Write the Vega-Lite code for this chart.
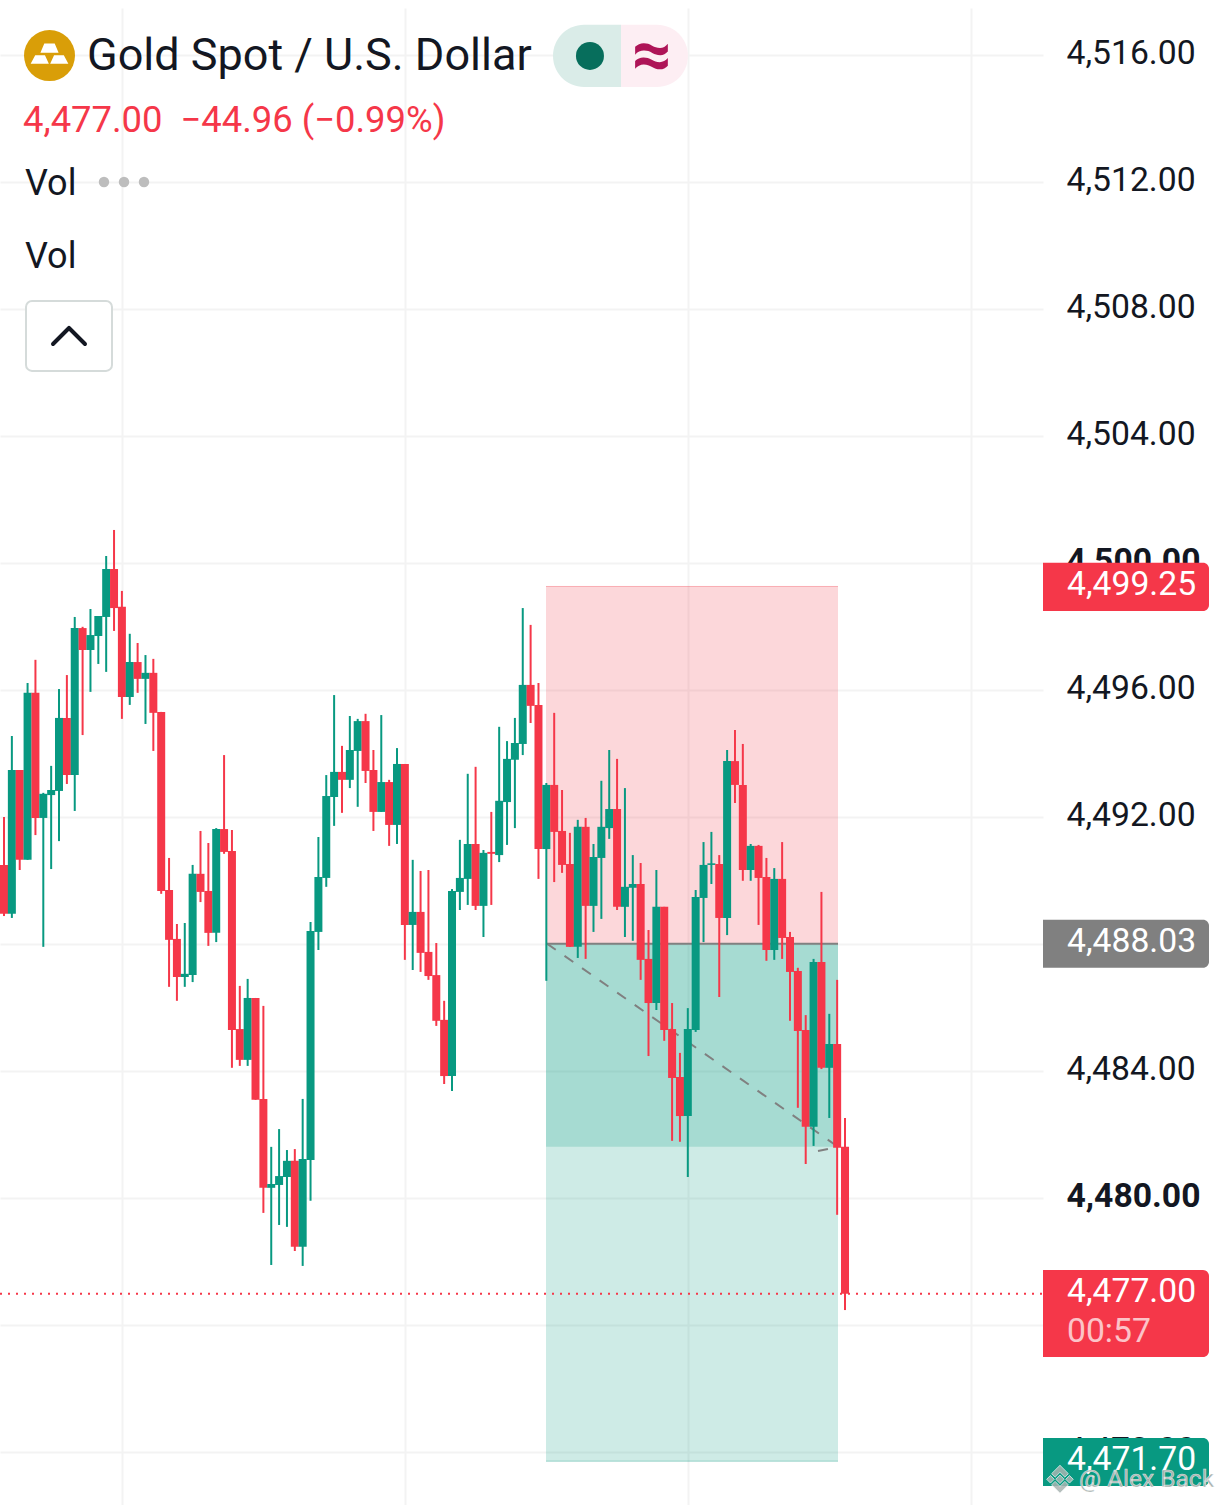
{
  "$schema": "https://vega.github.io/schema/vega-lite/v6.json",
  "autosize": {"type": "none"},
  "padding": {"left": 0, "top": 8, "right": 177, "bottom": 0},
  "width": 1043,
  "height": 1497,
  "background": "white",
  "view": {"stroke": null},
  "config": {"font": "Roboto", "text": {"font": "Roboto"}},
  "datasets": {
    "candles": [
      {"i":0,"o":4490.48,"h":4491.99,"l":4488.87,"c":4488.94},
      {"i":1,"o":4488.94,"h":4494.54,"l":4488.81,"c":4493.47},
      {"i":2,"o":4493.47,"h":4493.47,"l":4490.32,"c":4490.64},
      {"i":3,"o":4490.64,"h":4496.21,"l":4490.64,"c":4495.90},
      {"i":4,"o":4495.90,"h":4496.94,"l":4491.42,"c":4491.96},
      {"i":5,"o":4491.96,"h":4492.75,"l":4487.90,"c":4492.72},
      {"i":6,"o":4492.68,"h":4493.60,"l":4490.35,"c":4492.84},
      {"i":7,"o":4492.81,"h":4496.02,"l":4491.23,"c":4495.11},
      {"i":8,"o":4495.11,"h":4496.46,"l":4493.03,"c":4493.31},
      {"i":9,"o":4493.31,"h":4498.29,"l":4492.18,"c":4497.94},
      {"i":10,"o":4497.94,"h":4497.98,"l":4494.57,"c":4497.25},
      {"i":11,"o":4497.25,"h":4498.54,"l":4495.93,"c":4497.72},
      {"i":12,"o":4497.69,"h":4498.32,"l":4496.81,"c":4498.32},
      {"i":13,"o":4498.29,"h":4500.21,"l":4496.56,"c":4499.80},
      {"i":14,"o":4499.80,"h":4501.03,"l":4497.85,"c":4498.57},
      {"i":15,"o":4498.61,"h":4499.11,"l":4495.08,"c":4495.77},
      {"i":16,"o":4495.77,"h":4497.76,"l":4495.52,"c":4496.87},
      {"i":17,"o":4496.87,"h":4497.47,"l":4495.90,"c":4496.34},
      {"i":18,"o":4496.34,"h":4497.09,"l":4494.92,"c":4496.53},
      {"i":19,"o":4496.53,"h":4496.97,"l":4494.07,"c":4495.27},
      {"i":20,"o":4495.30,"h":4495.30,"l":4489.57,"c":4489.66},
      {"i":21,"o":4489.69,"h":4490.70,"l":4486.64,"c":4488.12},
      {"i":22,"o":4488.15,"h":4488.62,"l":4486.20,"c":4486.95},
      {"i":23,"o":4486.95,"h":4488.65,"l":4486.64,"c":4487.05},
      {"i":24,"o":4487.01,"h":4490.48,"l":4486.79,"c":4490.20},
      {"i":25,"o":4490.20,"h":4491.55,"l":4489.31,"c":4489.63},
      {"i":26,"o":4489.66,"h":4491.17,"l":4487.93,"c":4488.34},
      {"i":27,"o":4488.34,"h":4491.64,"l":4488.05,"c":4491.61},
      {"i":28,"o":4491.61,"h":4493.94,"l":4490.83,"c":4490.89},
      {"i":29,"o":4490.92,"h":4491.58,"l":4484.09,"c":4485.28},
      {"i":30,"o":4485.31,"h":4486.67,"l":4484.15,"c":4484.34},
      {"i":31,"o":4484.34,"h":4486.89,"l":4484.15,"c":4486.29},
      {"i":32,"o":4486.29,"h":4486.29,"l":4483.08,"c":4483.08},
      {"i":33,"o":4483.11,"h":4486.04,"l":4479.52,"c":4480.31},
      {"i":34,"o":4480.31,"h":4481.60,"l":4477.88,"c":4480.43},
      {"i":35,"o":4480.40,"h":4482.16,"l":4479.14,"c":4480.68},
      {"i":36,"o":4480.65,"h":4481.50,"l":4479.08,"c":4481.16},
      {"i":37,"o":4481.16,"h":4481.53,"l":4478.32,"c":4478.45},
      {"i":38,"o":4478.45,"h":4483.11,"l":4477.85,"c":4481.22},
      {"i":39,"o":4481.19,"h":4488.68,"l":4479.90,"c":4488.40},
      {"i":40,"o":4488.37,"h":4491.36,"l":4487.80,"c":4490.10},
      {"i":41,"o":4490.07,"h":4493.31,"l":4489.79,"c":4492.65},
      {"i":42,"o":4492.62,"h":4495.83,"l":4491.71,"c":4493.41},
      {"i":43,"o":4493.41,"h":4494.23,"l":4492.12,"c":4493.16},
      {"i":44,"o":4493.16,"h":4495.17,"l":4492.90,"c":4494.10},
      {"i":45,"o":4494.07,"h":4495.08,"l":4492.31,"c":4495.01},
      {"i":46,"o":4495.01,"h":4495.24,"l":4493.06,"c":4493.44},
      {"i":47,"o":4493.47,"h":4494.10,"l":4491.55,"c":4492.15},
      {"i":48,"o":4492.15,"h":4495.20,"l":4492.15,"c":4493.09},
      {"i":49,"o":4493.09,"h":4493.16,"l":4491.08,"c":4491.74},
      {"i":50,"o":4491.74,"h":4494.16,"l":4491.14,"c":4493.66},
      {"i":51,"o":4493.66,"h":4493.66,"l":4487.49,"c":4488.59},
      {"i":52,"o":4488.59,"h":4490.64,"l":4487.17,"c":4489.00},
      {"i":53,"o":4489.00,"h":4490.29,"l":4487.11,"c":4487.71},
      {"i":54,"o":4487.74,"h":4490.32,"l":4486.86,"c":4486.98},
      {"i":55,"o":4487.01,"h":4488.02,"l":4485.41,"c":4485.57},
      {"i":56,"o":4485.60,"h":4486.20,"l":4483.58,"c":4483.83},
      {"i":57,"o":4483.83,"h":4489.72,"l":4483.36,"c":4489.66},
      {"i":58,"o":4489.63,"h":4491.27,"l":4489.06,"c":4490.07},
      {"i":59,"o":4490.04,"h":4493.35,"l":4489.22,"c":4491.14},
      {"i":60,"o":4491.14,"h":4493.57,"l":4489.06,"c":4489.19},
      {"i":61,"o":4489.19,"h":4490.95,"l":4488.21,"c":4490.86},
      {"i":62,"o":4490.89,"h":4492.15,"l":4489.22,"c":4490.83},
      {"i":63,"o":4490.79,"h":4494.83,"l":4490.57,"c":4492.50},
      {"i":64,"o":4492.46,"h":4494.38,"l":4491.11,"c":4493.82},
      {"i":65,"o":4493.79,"h":4495.11,"l":4491.64,"c":4494.32},
      {"i":66,"o":4494.29,"h":4498.57,"l":4493.94,"c":4496.15},
      {"i":67,"o":4496.15,"h":4498.04,"l":4494.95,"c":4495.49},
      {"i":68,"o":4495.52,"h":4496.21,"l":4490.04,"c":4490.98},
      {"i":69,"o":4490.98,"h":4493.06,"l":4486.83,"c":4493.00},
      {"i":70,"o":4493.00,"h":4495.27,"l":4489.94,"c":4491.52},
      {"i":71,"o":4491.55,"h":4492.84,"l":4490.23,"c":4490.48},
      {"i":72,"o":4490.51,"h":4491.49,"l":4487.90,"c":4487.90},
      {"i":73,"o":4487.90,"h":4491.90,"l":4487.55,"c":4491.68},
      {"i":74,"o":4491.68,"h":4491.96,"l":4487.52,"c":4489.19},
      {"i":75,"o":4489.19,"h":4491.14,"l":4488.37,"c":4490.73},
      {"i":76,"o":4490.70,"h":4493.13,"l":4488.78,"c":4491.68},
      {"i":77,"o":4491.64,"h":4494.10,"l":4491.30,"c":4492.24},
      {"i":78,"o":4492.24,"h":4493.82,"l":4489.06,"c":4489.16},
      {"i":79,"o":4489.16,"h":4492.90,"l":4488.21,"c":4489.79},
      {"i":80,"o":4489.76,"h":4490.79,"l":4488.09,"c":4489.88},
      {"i":81,"o":4489.88,"h":4490.54,"l":4486.86,"c":4487.49},
      {"i":82,"o":4487.52,"h":4488.43,"l":4484.46,"c":4486.13},
      {"i":83,"o":4486.13,"h":4490.32,"l":4485.91,"c":4489.16},
      {"i":84,"o":4489.16,"h":4489.16,"l":4484.94,"c":4485.28},
      {"i":85,"o":4485.31,"h":4486.13,"l":4481.79,"c":4483.77},
      {"i":86,"o":4483.80,"h":4484.56,"l":4481.76,"c":4482.57},
      {"i":87,"o":4482.57,"h":4485.97,"l":4480.65,"c":4485.31},
      {"i":88,"o":4485.28,"h":4489.69,"l":4485.22,"c":4489.47},
      {"i":89,"o":4489.44,"h":4491.20,"l":4488.05,"c":4490.48},
      {"i":90,"o":4490.48,"h":4491.52,"l":4489.88,"c":4490.53},
      {"i":91,"o":4490.51,"h":4490.79,"l":4486.32,"c":4488.81},
      {"i":92,"o":4488.81,"h":4494.10,"l":4488.27,"c":4493.75},
      {"i":93,"o":4493.75,"h":4494.73,"l":4492.43,"c":4493.00},
      {"i":94,"o":4493.00,"h":4494.29,"l":4489.98,"c":4490.32},
      {"i":95,"o":4490.32,"h":4491.14,"l":4489.98,"c":4491.08},
      {"i":96,"o":4491.08,"h":4491.11,"l":4488.59,"c":4490.07},
      {"i":97,"o":4490.10,"h":4490.70,"l":4487.46,"c":4487.80},
      {"i":98,"o":4487.80,"h":4490.38,"l":4487.49,"c":4490.04},
      {"i":99,"o":4490.04,"h":4491.20,"l":4487.52,"c":4488.18},
      {"i":100,"o":4488.21,"h":4488.37,"l":4485.57,"c":4487.11},
      {"i":101,"o":4487.14,"h":4487.24,"l":4482.83,"c":4485.25},
      {"i":102,"o":4485.28,"h":4485.75,"l":4481.06,"c":4482.23},
      {"i":103,"o":4482.23,"h":4487.52,"l":4481.63,"c":4487.42},
      {"i":104,"o":4487.42,"h":4489.63,"l":4484.05,"c":4484.09},
      {"i":105,"o":4484.09,"h":4485.79,"l":4482.51,"c":4484.84},
      {"i":106,"o":4484.84,"h":4486.86,"l":4479.46,"c":4481.57},
      {"i":107,"o":4481.60,"h":4482.51,"l":4476.46,"c":4476.97}
    ]
  },
  "layer": [
    {
      "data": {"values": [{"a": 68.96, "b": 106.11, "top": 4499.25, "bottom": 4488.00}]},
      "mark": {"type": "rect", "color": "#f23645", "opacity": 0.2},
      "encoding": {
        "x": {"field": "a", "type": "quantitative", "title": null, "scale": {"domain": [-0.509, 132.19], "nice": false, "zero": false, "padding": 0},
          "axis": {"values": [15, 51, 87, 123], "title": null, "labels": false, "ticks": false, "domain": false, "grid": true, "gridColor": "#f3f3f3", "gridWidth": 2}},
        "x2": {"field": "b"},
        "y": {"field": "top", "type": "quantitative", "title": null, "scale": {"domain": [4470.32, 4517.47], "nice": false, "zero": false},
          "axis": {"orient": "right", "values": [4472, 4476, 4480, 4484, 4488, 4492, 4496, 4500, 4504, 4508, 4512, 4516], "format": ",.2f", "title": null, "ticks": false, "domain": false, "grid": true, "gridColor": "#f3f3f3", "gridWidth": 2, "labelFont": "Roboto", "labelFontSize": 33.7, "labelColor": "#131722", "labelAlign": "left", "labelPadding": 23, "labelOffset": -1, "labelOverlap": false, "labelFlush": false, "labelBound": false, "labelFontWeight": {"condition": {"test": "datum.value == 4480 || datum.value == 4500", "value": "bold"}, "value": "normal"}}},
        "y2": {"field": "bottom"}
      }
    },
    {
      "data": {"values": [{"a": 68.96, "b": 106.11, "top": 4488.00, "bottom": 4471.70}, {"a": 68.96, "b": 106.11, "top": 4488.00, "bottom": 4481.60}]},
      "mark": {"type": "rect", "color": "#089981", "opacity": 0.2},
      "encoding": {
        "x": {"field": "a", "type": "quantitative", "title": null},
        "x2": {"field": "b"},
        "y": {"field": "top", "type": "quantitative", "title": null},
        "y2": {"field": "bottom"}
      }
    },
    {
      "data": {"values": [{"a": 68.96, "b": 106.11, "p": 4499.25}]},
      "mark": {"type": "rule", "color": "#f23645", "opacity": 0.35, "strokeWidth": 1},
      "encoding": {"x": {"field": "a", "type": "quantitative", "title": null}, "x2": {"field": "b"}, "y": {"field": "p", "type": "quantitative", "title": null}}
    },
    {
      "data": {"values": [{"a": 68.96, "b": 106.11, "p": 4471.70}]},
      "mark": {"type": "rule", "color": "#089981", "opacity": 0.35, "strokeWidth": 1},
      "encoding": {"x": {"field": "a", "type": "quantitative", "title": null}, "x2": {"field": "b"}, "y": {"field": "p", "type": "quantitative", "title": null}}
    },
    {
      "data": {"values": [{"a": 68.96, "b": 106.11, "p": 4488.00}]},
      "mark": {"type": "rule", "color": "#808080", "strokeWidth": 2},
      "encoding": {"x": {"field": "a", "type": "quantitative", "title": null}, "x2": {"field": "b"}, "y": {"field": "p", "type": "quantitative", "title": null}}
    },
    {
      "data": {"values": [{"i": 69.08, "p": 4488.00}, {"i": 106.11, "p": 4481.60}]},
      "mark": {"type": "line", "color": "#808080", "strokeWidth": 2, "strokeDash": [10.7, 10.7]},
      "encoding": {"x": {"field": "i", "type": "quantitative", "title": null}, "y": {"field": "p", "type": "quantitative", "title": null}}
    },
    {
      "data": {"values": [{"a": 103.56, "b": 104.83, "p1": 4481.47, "p2": 4481.53}]},
      "mark": {"type": "rule", "color": "#808080", "strokeWidth": 2},
      "encoding": {"x": {"field": "a", "type": "quantitative", "title": null}, "x2": {"field": "b"}, "y": {"field": "p1", "type": "quantitative", "title": null}, "y2": {"field": "p2"}}
    },
    {
      "data": {"name": "candles"},
      "mark": {"type": "rule", "strokeWidth": 2},
      "encoding": {
        "x": {"field": "i", "type": "quantitative", "title": null},
        "y": {"field": "l", "type": "quantitative", "title": null},
        "y2": {"field": "h"},
        "color": {"condition": {"test": "datum.c >= datum.o", "value": "#089981"}, "value": "#f53749"}
      }
    },
    {
      "data": {"name": "candles"},
      "mark": {"type": "bar", "size": 8},
      "encoding": {
        "x": {"field": "i", "type": "quantitative", "title": null},
        "y": {"field": "o", "type": "quantitative", "title": null},
        "y2": {"field": "c"},
        "color": {"condition": {"test": "datum.c >= datum.o", "value": "#089981"}, "value": "#f53749"}
      }
    },
    {
      "data": {"values": [{"a": -0.509, "b": 132.19, "p": 4476.97}]},
      "mark": {"type": "rule", "color": "#f53749", "strokeWidth": 2, "strokeDash": [2, 6]},
      "encoding": {"x": {"field": "a", "type": "quantitative", "title": null}, "x2": {"field": "b"}, "y": {"field": "p", "type": "quantitative", "title": null}}
    },
    {
      "data": {"values": [{"a": 132.19, "b": 153.31, "top": 4500.0, "bottom": 4498.48}, {"a": 132.19, "b": 153.31, "top": 4477.72, "bottom": 4474.98}]},
      "mark": {"type": "rect", "color": "#f53749", "cornerRadiusTopRight": 6, "cornerRadiusBottomRight": 6},
      "encoding": {"x": {"field": "a", "type": "quantitative", "title": null}, "x2": {"field": "b"}, "y": {"field": "top", "type": "quantitative", "title": null}, "y2": {"field": "bottom"}}
    },
    {
      "data": {"values": [{"a": 132.19, "b": 153.31, "top": 4488.75, "bottom": 4487.24}]},
      "mark": {"type": "rect", "color": "#808080", "cornerRadiusTopRight": 6, "cornerRadiusBottomRight": 6},
      "encoding": {"x": {"field": "a", "type": "quantitative", "title": null}, "x2": {"field": "b"}, "y": {"field": "top", "type": "quantitative", "title": null}, "y2": {"field": "bottom"}}
    },
    {
      "data": {"values": [{"a": 132.19, "b": 153.31, "top": 4472.43, "bottom": 4470.92}]},
      "mark": {"type": "rect", "color": "#089981", "cornerRadiusTopRight": 6, "cornerRadiusBottomRight": 6},
      "encoding": {"x": {"field": "a", "type": "quantitative", "title": null}, "x2": {"field": "b"}, "y": {"field": "top", "type": "quantitative", "title": null}, "y2": {"field": "bottom"}}
    },
    {
      "data": {"values": [{"i": 135.24, "p": 4499.25, "t": "4,499.25"}, {"i": 135.24, "p": 4488.03, "t": "4,488.03"}, {"i": 135.24, "p": 4477.00, "t": "4,477.00"}, {"i": 135.24, "p": 4471.70, "t": "4,471.70"}]},
      "mark": {"type": "text", "font": "Roboto", "fontSize": 33.7, "color": "white", "align": "left", "baseline": "middle", "dy": -1},
      "encoding": {"x": {"field": "i", "type": "quantitative", "title": null}, "y": {"field": "p", "type": "quantitative", "title": null}, "text": {"field": "t"}}
    },
    {
      "data": {"values": [{"i": 135.24, "p": 4475.77, "t": "00:57"}]},
      "mark": {"type": "text", "font": "Roboto", "fontSize": 33.7, "color": "white", "opacity": 0.7, "align": "left", "baseline": "middle"},
      "encoding": {"x": {"field": "i", "type": "quantitative", "title": null}, "y": {"field": "p", "type": "quantitative", "title": null}, "text": {"field": "t"}}
    },
    {
      "data": {"values": [{"i": 136.77, "p": 4471.11, "t": "@ Alex Back"}]},
      "mark": {"type": "text", "font": "Roboto", "fontSize": 24.5, "align": "left", "baseline": "middle", "color": "#a3aeab", "stroke": "white", "strokeWidth": 0.6, "strokeOpacity": 0.7},
      "encoding": {"x": {"field": "i", "type": "quantitative", "title": null}, "y": {"field": "p", "type": "quantitative", "title": null}, "text": {"field": "t"}}
    },
    {
      "data": {"values": [{"i": 134.35, "p": 4471.13}]},
      "mark": {"type": "point", "filled": true, "size": 784, "color": "#a9b5b2", "opacity": 0.85, "stroke": "white", "strokeWidth": 0.8, "shape": "M0 -0.3 L0.3 0 L0 0.3 L-0.3 0 Z M-0.95 0 L-0.68 -0.27 L-0.41 0 L-0.68 0.27 Z M0.95 0 L0.68 -0.27 L0.41 0 L0.68 0.27 Z M0 -1 L0.6 -0.4 L0.35 -0.15 L0 -0.5 L-0.35 -0.15 L-0.6 -0.4 Z M0 1 L0.6 0.4 L0.35 0.15 L0 0.5 L-0.35 0.15 L-0.6 0.4 Z"},
      "encoding": {"x": {"field": "i", "type": "quantitative", "title": null}, "y": {"field": "p", "type": "quantitative", "title": null}}
    },
    {
      "data": {"values": [{"i": 5.79, "p": 4515.97}]},
      "mark": {"type": "point", "filled": true, "size": 2601, "color": "#d99e08", "opacity": 1, "shape": "circle"},
      "encoding": {"x": {"field": "i", "type": "quantitative", "title": null}, "y": {"field": "p", "type": "quantitative", "title": null}}
    },
    {
      "data": {"values": [{"i": 5.79, "p": 4516.0}]},
      "mark": {"type": "point", "filled": true, "size": 676, "color": "white", "opacity": 1, "shape": "M-0.4 -0.85 L0.4 -0.85 L0.7 -0.15 L-0.7 -0.15 Z M-1.1 0.05 L-0.35 0.05 L-0.05 0.7 L-1.45 0.7 Z M1.1 0.05 L0.35 0.05 L0.05 0.7 L1.45 0.7 Z"},
      "encoding": {"x": {"field": "i", "type": "quantitative", "title": null}, "y": {"field": "p", "type": "quantitative", "title": null}}
    },
    {
      "data": {"values": [{"i": 10.56, "p": 4515.52, "t": "Gold Spot / U.S. Dollar"}]},
      "mark": {"type": "text", "font": "Roboto", "fontSize": 45, "color": "#131722", "align": "left", "baseline": "alphabetic"},
      "encoding": {"x": {"field": "i", "type": "quantitative", "title": null}, "y": {"field": "p", "type": "quantitative", "title": null}, "text": {"field": "t"}}
    },
    {
      "data": {"values": [{"a": 69.85, "b": 78.5, "top": 4516.94, "bottom": 4514.98}]},
      "mark": {"type": "rect", "color": "#daece8", "cornerRadiusTopLeft": 31, "cornerRadiusBottomLeft": 31},
      "encoding": {"x": {"field": "a", "type": "quantitative", "title": null}, "x2": {"field": "b"}, "y": {"field": "top", "type": "quantitative", "title": null}, "y2": {"field": "bottom"}}
    },
    {
      "data": {"values": [{"a": 78.5, "b": 87.02, "top": 4516.94, "bottom": 4514.98}]},
      "mark": {"type": "rect", "color": "#fdeef3", "cornerRadiusTopRight": 31, "cornerRadiusBottomRight": 31},
      "encoding": {"x": {"field": "a", "type": "quantitative", "title": null}, "x2": {"field": "b"}, "y": {"field": "top", "type": "quantitative", "title": null}, "y2": {"field": "bottom"}}
    },
    {
      "data": {"values": [{"i": 74.55, "p": 4515.96}]},
      "mark": {"type": "point", "filled": true, "size": 784, "color": "#076e5c", "opacity": 1, "shape": "circle"},
      "encoding": {"x": {"field": "i", "type": "quantitative", "title": null}, "y": {"field": "p", "type": "quantitative", "title": null}}
    },
    {
      "data": {"values": [{"i": 82.45, "p": 4515.93, "t": "≈"}]},
      "mark": {"type": "text", "font": "Roboto", "fontSize": 70, "fontWeight": "bold", "color": "#ae1457", "align": "center", "baseline": "middle"},
      "encoding": {"x": {"field": "i", "type": "quantitative", "title": null}, "y": {"field": "p", "type": "quantitative", "title": null}, "text": {"field": "t"}}
    },
    {
      "data": {"values": [{"i": 2.42, "p": 4513.57, "t": "4,477.00\u00a0\u00a0−44.96 (−0.99%)"}]},
      "mark": {"type": "text", "font": "Roboto", "fontSize": 36.4, "color": "#f53749", "align": "left", "baseline": "alphabetic"},
      "encoding": {"x": {"field": "i", "type": "quantitative", "title": null}, "y": {"field": "p", "type": "quantitative", "title": null}, "text": {"field": "t"}}
    },
    {
      "data": {"values": [{"i": 2.67, "p": 4511.58, "t": "Vol"}, {"i": 2.67, "p": 4509.28, "t": "Vol"}]},
      "mark": {"type": "text", "font": "Roboto", "fontSize": 36, "color": "#131722", "align": "left", "baseline": "alphabetic"},
      "encoding": {"x": {"field": "i", "type": "quantitative", "title": null}, "y": {"field": "p", "type": "quantitative", "title": null}, "text": {"field": "t"}}
    },
    {
      "data": {"values": [{"i": 12.72, "p": 4511.99}, {"i": 15.27, "p": 4511.99}, {"i": 17.81, "p": 4511.99}]},
      "mark": {"type": "point", "filled": true, "size": 110, "color": "#bdbdbd", "opacity": 1, "shape": "circle"},
      "encoding": {"x": {"field": "i", "type": "quantitative", "title": null}, "y": {"field": "p", "type": "quantitative", "title": null}}
    },
    {
      "data": {"values": [{"a": 2.8, "b": 13.74, "top": 4508.24, "bottom": 4506.04}]},
      "mark": {"type": "rect", "fill": "white", "stroke": "#d5dbda", "strokeWidth": 2, "cornerRadius": 6},
      "encoding": {"x": {"field": "a", "type": "quantitative", "title": null}, "x2": {"field": "b"}, "y": {"field": "top", "type": "quantitative", "title": null}, "y2": {"field": "bottom"}}
    },
    {
      "data": {"values": [{"i": 8.27, "p": 4507.14}]},
      "mark": {"type": "point", "filled": false, "size": 1024, "stroke": "#131722", "strokeWidth": 4, "opacity": 1, "strokeCap": "round", "strokeJoin": "round", "shape": "M-1 0.5 L0 -0.5 L1 0.5"},
      "encoding": {"x": {"field": "i", "type": "quantitative", "title": null}, "y": {"field": "p", "type": "quantitative", "title": null}}
    }
  ]
}
